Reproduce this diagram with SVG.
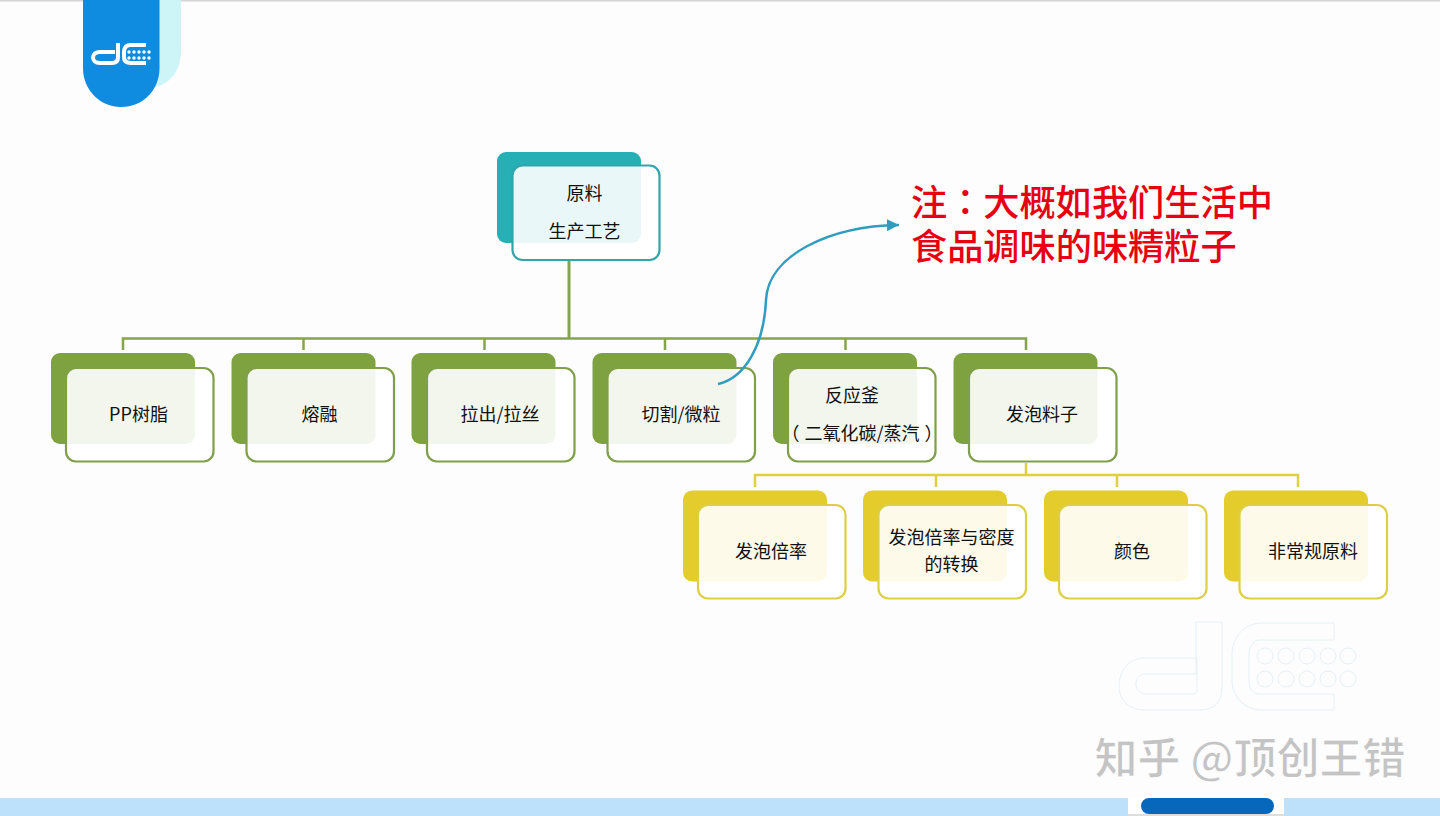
<svg xmlns="http://www.w3.org/2000/svg" width="1440" height="816" viewBox="0 0 1440 816">
<defs>
<style>
text{font-family:"Noto Sans CJK SC","Liberation Sans",sans-serif;font-size:18px;fill:#111;text-anchor:middle}
.front{fill:#fff;fill-opacity:.9;stroke-width:2.200}
.g .back{fill:#7fa240}.g .front{stroke:#7f9f4a}
.y .back{fill:#e3cc2b}.y .front{stroke:#dccf45}
.t .back{fill:#26afb5}.t .front{stroke:#30a5aa}
.gl{fill:none;stroke:#86a548;stroke-width:2.500}
.yl{fill:none;stroke:#e0cf3e;stroke-width:2.500}
.note{font-family:"Noto Sans CJK TC","Noto Sans CJK SC",sans-serif;font-size:36.200px;fill:#e60012;text-anchor:start;font-weight:500}
.wm{fill:none;stroke:#e6f0f6;stroke-width:1}
</style>
<marker id="arr" markerUnits="userSpaceOnUse" markerWidth="13" markerHeight="12" refX="12" refY="6" orient="auto"><path d="M0 0L12 6L0 12z" fill="#309dc0"/></marker>
<rect id="b" width="144" height="91" rx="9"/>
<rect id="f" width="147.500" height="93.500" rx="10"/>
</defs>
<rect width="1440" height="816" fill="#fdfdfd"/>
<rect width="1440" height="1.500" fill="#d5d5d5"/>
<g id="logo">
<path d="M100 0H181V50C181 72 170 84 152 88L100 90z" fill="#cdf5f7"/>
<path d="M83 0H159.500V68C159.500 90 143 107 121 107C100 107 83 90 83 68z" fill="#0f8be0"/>
<path d="M118 43V57C118 61 116 63 112 63H100C95 63 93 60 93 57.500C93 54 96 52 100 52H115M146 45H131C126 45 124 48 124 52V57C124 61 126 63 131 63H146" fill="none" stroke="#fff" stroke-width="4"/>
<g fill="#fff"><circle cx="129" cy="52" r="1.700"/><circle cx="134" cy="52" r="1.700"/><circle cx="139" cy="52" r="1.700"/><circle cx="144" cy="52" r="1.700"/><circle cx="149" cy="52" r="1.700"/><circle cx="129" cy="58" r="1.700"/><circle cx="134" cy="58" r="1.700"/><circle cx="139" cy="58" r="1.700"/><circle cx="144" cy="58" r="1.700"/><circle cx="149" cy="58" r="1.700"/></g>
</g>
<g id="connectors">
<path class="gl" d="M569 261V338" style="stroke-width:3"/>
<path class="gl" d="M123 350V338.500H1026V350M303.500 338V350M484.500 338V350M665 338V350M845.500 338V350"/>
<path class="yl" d="M1026 463V475M755 487V475H1298V487M936 475V487M1117 475V487"/>
</g>
<g id="n0" class="t"><use href="#b" class="back" x="497" y="152"/><rect class="front" x="512.500" y="165.500" width="147" height="94.500" rx="10"/><text x="584.500" y="200">原料</text><text x="584.500" y="238">生产工艺</text></g>
<g id="n1" class="g"><use href="#b" class="back" x="51" y="353"/><use href="#f" class="front" x="66" y="368"/><text x="138.500" y="421">PP树脂</text></g>
<g id="n2" class="g"><use href="#b" class="back" x="231.500" y="353"/><use href="#f" class="front" x="246.500" y="368"/><text x="319.500" y="421">熔融</text></g>
<g id="n3" class="g"><use href="#b" class="back" x="411.500" y="353"/><use href="#f" class="front" x="427" y="368"/><text x="500" y="421">拉出/拉丝</text></g>
<g id="n4" class="g"><use href="#b" class="back" x="592.500" y="353"/><use href="#f" class="front" x="607.500" y="368"/><text x="681" y="421">切割/微粒</text></g>
<g id="n5" class="g"><use href="#b" class="back" x="773" y="353"/><use href="#f" class="front" x="788" y="368"/><text x="852" y="402">反应釜</text><text x="862" y="440"><tspan>（</tspan><tspan dx="5">二氧化碳/蒸汽</tspan><tspan dx="5">）</tspan></text></g>
<g id="n6" class="g"><use href="#b" class="back" x="953.500" y="353"/><use href="#f" class="front" x="969" y="368"/><text x="1042" y="421">发泡料子</text></g>
<g id="n7" class="y"><use href="#b" class="back" x="683" y="490.500"/><use href="#f" class="front" x="698" y="505"/><text x="771" y="558">发泡倍率</text></g>
<g id="n8" class="y"><use href="#b" class="back" x="863" y="490.500"/><use href="#f" class="front" x="878.500" y="505"/><text x="951.500" y="544">发泡倍率与密度</text><text x="951.500" y="571">的转换</text></g>
<g id="n9" class="y"><use href="#b" class="back" x="1044" y="490.500"/><use href="#f" class="front" x="1059" y="505"/><text x="1132" y="558">颜色</text></g>
<g id="n10" class="y"><use href="#b" class="back" x="1224" y="490.500"/><use href="#f" class="front" x="1239.500" y="505"/><text x="1313" y="558">非常规原料</text></g>
<path id="callout" d="M718 384C745 378 764 345 766 300C768 255 830 226 899 225" fill="none" stroke="#309dc0" stroke-width="2.500" marker-end="url(#arr)"/>
<text class="note" x="911" y="216">注：大概如我们生活中</text>
<text class="note" x="911" y="260">食品调味的味精粒子</text>
<g id="watermark-logo" class="wm">
<path d="M1196 622H1222V688C1222 702 1214 710 1200 710H1144C1128 710 1119 699 1119 686C1119 672 1128 658 1144 658H1197V690C1197 692 1196 694 1192 694H1147C1140 694 1136 690 1136 684C1136 677 1140 674 1147 674H1196z"/>
<path d="M1334 623H1262C1244 623 1232 638 1232 654V680C1232 696 1244 710 1262 710H1334V694H1260C1254 694 1249 690 1249 682V654C1249 646 1254 640 1260 640H1334z"/>
<g><circle cx="1265" cy="656" r="8"/><circle cx="1286" cy="656" r="8"/><circle cx="1307" cy="656" r="8"/><circle cx="1328" cy="656" r="8"/><circle cx="1348" cy="656" r="8"/><circle cx="1265" cy="679" r="8"/><circle cx="1286" cy="679" r="8"/><circle cx="1307" cy="679" r="8"/><circle cx="1328" cy="679" r="8"/><circle cx="1348" cy="679" r="8"/></g>
</g>
<text x="1250" y="774" style="font-size:43px;font-weight:700;fill:#c4c4c4;stroke:#fff;stroke-width:1px">知乎 @顶创王错</text>
<g id="footer">
<rect y="798" width="1128" height="18" fill="#bde0fb"/>
<rect x="1128" y="798" width="156" height="16" fill="#fff"/>
<rect x="1128" y="814" width="156" height="2" fill="#ddd"/>
<rect x="1284" y="798" width="156" height="18" fill="#bde0fb"/>
<rect x="1141" y="798" width="133" height="16" rx="8" fill="#0768bb"/>
</g>
</svg>
